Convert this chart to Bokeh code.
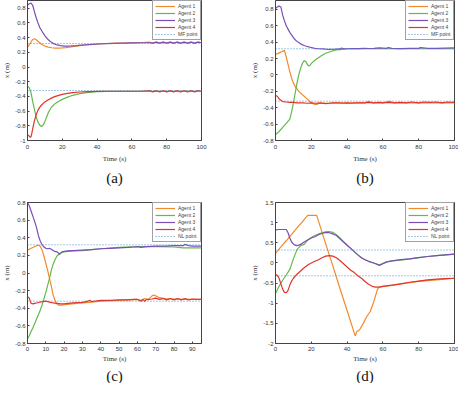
from bokeh.plotting import figure
from bokeh.models import FixedTicker, Legend, LegendItem, Range1d, Title
from bokeh.layouts import column, row
from bokeh.embed import file_html
from bokeh.resources import INLINE

# ---------------- data ----------------
series_names = ["Agent 1", "Agent 2", "Agent 3", "Agent 4"]

# panel (a)
a1_t = [0,1,2,3,4,5,6,7,8,10,12,14,16,18,20,22,25,28,31,34,37,40,43,46,50,55,60,65,70,72,74,76,78,80,82,84,86,88,90,92,94,96,98,100]
a1_y = [0.27,0.30,0.34,0.375,0.385,0.37,0.35,0.33,0.31,0.285,0.27,0.262,0.258,0.258,0.26,0.265,0.275,0.285,0.293,0.30,0.306,0.312,0.317,0.32,0.324,0.327,0.329,0.33,0.338,0.324,0.338,0.324,0.338,0.324,0.338,0.324,0.338,0.324,0.338,0.324,0.338,0.324,0.338,0.33]
a2_t = [0,1,2,3,4,5,6,7,8,9,10,11,12,13,14,16,18,20,23,26,30,35,40,45,50,55,60,70,80,90,100]
a2_y = [-0.26,-0.28,-0.35,-0.47,-0.58,-0.68,-0.75,-0.79,-0.81,-0.79,-0.74,-0.68,-0.62,-0.575,-0.54,-0.495,-0.465,-0.44,-0.41,-0.385,-0.362,-0.345,-0.336,-0.332,-0.33,-0.33,-0.33,-0.33,-0.33,-0.33,-0.33]
a3_t = [0,1,2,3,4,5,6,7,8,9,10,11,12,13,14,15,17,19,21,23,25,28,31,34,37,40,45,50,55,60,65,70,72,74,76,78,80,82,84,86,88,90,92,94,96,98,100]
a3_y = [0.84,0.86,0.87,0.84,0.75,0.67,0.60,0.54,0.50,0.46,0.425,0.395,0.37,0.35,0.332,0.318,0.30,0.29,0.285,0.285,0.287,0.292,0.298,0.303,0.308,0.313,0.318,0.322,0.325,0.328,0.33,0.33,0.324,0.338,0.324,0.338,0.324,0.338,0.324,0.338,0.324,0.338,0.324,0.338,0.324,0.338,0.33]
a4_t = [0,1,1.5,2,2.5,3,4,5,6,7,8,9,10,12,14,16,18,20,23,26,30,35,40,45,50,55,60,65,70,72,74,76,78,80,82,84,86,88,90,92,94,96,98,100]
a4_y = [-0.92,-0.94,-0.955,-0.95,-0.90,-0.84,-0.73,-0.65,-0.59,-0.55,-0.52,-0.495,-0.475,-0.445,-0.42,-0.40,-0.385,-0.372,-0.358,-0.348,-0.34,-0.335,-0.332,-0.33,-0.33,-0.33,-0.33,-0.33,-0.322,-0.338,-0.322,-0.338,-0.322,-0.338,-0.322,-0.338,-0.322,-0.338,-0.322,-0.338,-0.322,-0.338,-0.322,-0.33]

# panel (b)
b1_t = [0,2,4,5,6,7,8,9,10,11,12,13,14,15,16,17,18,19,20,21,22,23,24,25,27,30,35,40,45,50,52,54,60,64,66,70,80,90,100]
b1_y = [0.25,0.27,0.29,0.30,0.22,0.13,0.04,-0.04,-0.10,-0.14,-0.17,-0.20,-0.22,-0.24,-0.26,-0.28,-0.30,-0.32,-0.335,-0.35,-0.36,-0.36,-0.35,-0.345,-0.345,-0.345,-0.34,-0.34,-0.34,-0.34,-0.32,-0.34,-0.34,-0.32,-0.34,-0.34,-0.34,-0.34,-0.34]
b2_t = [0,2,4,6,8,9,10,11,12,13,14,15,16,17,18,19,20,21,22,24,26,28,30,32,34,36,38,40,45,50,60,70,80,90,100]
b2_y = [-0.73,-0.69,-0.64,-0.59,-0.54,-0.45,-0.34,-0.22,-0.10,0.0,0.08,0.14,0.175,0.165,0.12,0.11,0.14,0.16,0.18,0.21,0.24,0.265,0.28,0.295,0.305,0.31,0.315,0.32,0.32,0.32,0.32,0.32,0.32,0.32,0.32]
b3_t = [0,1,2,3,4,5,6,7,8,9,10,11,12,13,14,16,18,20,22,24,26,28,30,33,36,37,38,40,43,46,50,52,55,58,62,63,65,70,75,80,81,85,90,95,100]
b3_y = [0.81,0.83,0.84,0.83,0.73,0.66,0.60,0.56,0.52,0.49,0.455,0.43,0.41,0.395,0.38,0.36,0.345,0.335,0.325,0.32,0.318,0.315,0.313,0.315,0.318,0.33,0.318,0.32,0.322,0.322,0.325,0.323,0.325,0.33,0.325,0.335,0.325,0.322,0.325,0.325,0.335,0.325,0.325,0.328,0.33]
b4_t = [0,1,2,3,4,6,8,10,12,15,18,20,22,25,28,30,32,35,38,40,42,45,48,50,52,55,58,60,63,66,70,73,76,80,83,86,90,93,96,100]
b4_y = [-0.25,-0.26,-0.29,-0.31,-0.325,-0.33,-0.335,-0.335,-0.34,-0.34,-0.345,-0.34,-0.345,-0.34,-0.35,-0.345,-0.34,-0.34,-0.345,-0.34,-0.345,-0.34,-0.34,-0.34,-0.335,-0.34,-0.335,-0.34,-0.335,-0.34,-0.335,-0.34,-0.33,-0.34,-0.33,-0.335,-0.33,-0.34,-0.33,-0.335]

# panel (c)
c1_t = [0,1,2,3,4,5,6,7,8,9,10,11,12,13,14,15,16,17,18,19,20,22,24,27,30,35,40,45,50,55,60,62,64,66,67,68,69,70,71,72,75,80,85,90,95]
c1_y = [0.26,0.27,0.28,0.29,0.30,0.31,0.315,0.30,0.26,0.19,0.11,0.03,-0.06,-0.15,-0.25,-0.31,-0.35,-0.365,-0.365,-0.365,-0.36,-0.355,-0.35,-0.345,-0.34,-0.33,-0.32,-0.315,-0.31,-0.305,-0.30,-0.31,-0.29,-0.305,-0.28,-0.26,-0.25,-0.26,-0.27,-0.28,-0.29,-0.295,-0.30,-0.30,-0.30]
c2_t = [0,1,2,3,4,5,6,7,8,9,10,11,12,13,14,15,16,17,18,19,20,22,25,30,35,40,50,60,70,80,85,90,95]
c2_y = [-0.75,-0.71,-0.66,-0.62,-0.57,-0.52,-0.47,-0.42,-0.36,-0.29,-0.22,-0.14,-0.06,0.03,0.10,0.15,0.19,0.21,0.225,0.235,0.24,0.245,0.25,0.255,0.265,0.275,0.29,0.30,0.30,0.295,0.285,0.285,0.285]
c3_t = [0,1,2,3,4,5,6,7,8,9,10,11,12,13,14,15,16,17,17.5,18,19,20,22,25,30,35,40,45,50,55,58,60,62,65,70,75,80,85,86,88,90,95]
c3_y = [0.80,0.76,0.70,0.64,0.58,0.51,0.42,0.36,0.32,0.295,0.28,0.275,0.28,0.27,0.255,0.245,0.24,0.225,0.21,0.225,0.24,0.245,0.25,0.255,0.26,0.265,0.275,0.28,0.285,0.29,0.295,0.30,0.29,0.30,0.305,0.305,0.31,0.31,0.325,0.31,0.305,0.305]
c4_t = [0,1,1.5,2,3,4,5,6,8,10,12,14,16,18,20,22,25,28,30,33,34,35,38,40,45,50,55,58,60,62,63,64,65,66,68,70,72,74,76,78,80,82,84,86,88,90,92,95]
c4_y = [-0.27,-0.285,-0.32,-0.345,-0.35,-0.345,-0.34,-0.335,-0.325,-0.32,-0.33,-0.34,-0.345,-0.35,-0.35,-0.345,-0.34,-0.335,-0.333,-0.32,-0.31,-0.325,-0.315,-0.31,-0.31,-0.305,-0.305,-0.30,-0.30,-0.32,-0.30,-0.32,-0.30,-0.30,-0.295,-0.285,-0.30,-0.29,-0.305,-0.29,-0.305,-0.29,-0.305,-0.29,-0.305,-0.295,-0.30,-0.30]

# panel (d)
d1_t = [0,3,6,9,12,15,17,18,23,25,28,31,34,37,40,43,44.5,45.5,47,49,51,53,55,57,58,60,65,70,80,90,100]
d1_y = [0.24,0.40,0.55,0.71,0.87,1.02,1.13,1.18,1.18,0.90,0.48,0.07,-0.35,-0.77,-1.18,-1.60,-1.81,-1.70,-1.66,-1.50,-1.33,-1.20,-0.95,-0.65,-0.60,-0.58,-0.56,-0.52,-0.46,-0.42,-0.38]
d2_t = [0,2,4,6,8,10,12,14,16,18,20,22,24,26,28,30,32,34,36,38,40,42,44,46,48,50,52,54,56,58,60,62,65,70,75,80,85,90,95,100]
d2_y = [-0.76,-0.58,-0.43,-0.30,-0.16,0.10,0.33,0.43,0.46,0.57,0.63,0.68,0.72,0.75,0.77,0.78,0.76,0.70,0.62,0.53,0.44,0.36,0.28,0.20,0.13,0.08,0.04,0.01,-0.02,-0.05,-0.01,0.03,0.05,0.07,0.10,0.13,0.16,0.18,0.20,0.22]
d3_t = [0,2,4,6,7,8,9,10,11,12,13,14,16,18,20,22,24,26,28,30,32,34,36,38,40,42,44,46,48,50,52,54,56,58,60,62,65,70,75,80,85,90,95,100]
d3_y = [0.82,0.83,0.83,0.83,0.75,0.62,0.52,0.47,0.44,0.43,0.44,0.46,0.52,0.57,0.62,0.65,0.70,0.73,0.76,0.75,0.72,0.68,0.60,0.52,0.44,0.36,0.28,0.20,0.13,0.08,0.04,0.01,-0.02,-0.06,-0.02,0.02,0.05,0.08,0.10,0.13,0.16,0.18,0.20,0.22]
d4_t = [0,1,2,3,4,5,6,7,8,9,10,12,14,16,18,20,22,24,26,28,30,32,34,36,38,40,42,44,46,48,50,52,54,56,58,60,65,70,75,80,85,90,95,100]
d4_y = [-0.28,-0.31,-0.38,-0.52,-0.65,-0.73,-0.74,-0.68,-0.55,-0.45,-0.38,-0.28,-0.20,-0.12,-0.05,0.0,0.04,0.08,0.13,0.17,0.18,0.17,0.13,0.06,-0.02,-0.10,-0.18,-0.24,-0.32,-0.38,-0.46,-0.53,-0.58,-0.60,-0.60,-0.58,-0.55,-0.52,-0.48,-0.45,-0.42,-0.40,-0.39,-0.38]

ref_level = [0.32, -0.32]   # MF / NL reference point levels

a_xticks = [0, 20, 40, 60, 80, 100]
a_yticks = [-1, -0.8, -0.6, -0.4, -0.2, 0, 0.2, 0.4, 0.6, 0.8, 1]
b_yticks = [-0.8, -0.6, -0.4, -0.2, 0, 0.2, 0.4, 0.6, 0.8, 1]
c_xticks = [0, 10, 20, 30, 40, 50, 60, 70, 80, 90]
c_yticks = [-0.8, -0.6, -0.4, -0.2, 0, 0.2, 0.4, 0.6, 0.8]
d_yticks = [-2, -1.5, -1, -0.5, 0, 0.5, 1, 1.5]

colors = ["#F28A2C", "#62BA4A", "#7B4DB7", "#E2332A"]
ref_color = "#4A8FCF"

TICK_FONT = "Liberation Sans"
LAB_FONT = "Liberation Serif"


def fmt(v):
    return f"{v:g}"


def make_panel(w, h, bl, br, bt, bb, xr, yr, xticks, yticks, data, ref_name,
               tag, tag_standoff, tick_so, lab_so):
    p = figure(width=w, height=h, output_backend="svg", toolbar_location=None,
               x_range=Range1d(*xr), y_range=Range1d(*yr),
               min_border_left=bl, min_border_right=br,
               min_border_top=bt, min_border_bottom=bb)
    p.background_fill_color = "white"
    p.border_fill_color = "white"
    p.outline_line_color = "#444444"
    p.outline_line_width = 1
    p.xgrid.visible = False
    p.ygrid.visible = False
    for ax in (p.xaxis[0], p.yaxis[0]):
        ax.axis_line_color = "#444444"
        ax.major_tick_line_color = "#444444"
        ax.major_tick_in = 2
        ax.major_tick_out = 0
        ax.minor_tick_line_color = None
        ax.major_label_text_font = TICK_FONT
        ax.major_label_text_font_size = "6px"
        ax.major_label_text_color = "#333333"
        ax.axis_label_text_font = LAB_FONT
        ax.axis_label_text_font_style = "normal"
        ax.axis_label_text_font_size = "7px"
        ax.axis_label_text_color = "#333333"
    p.xaxis.ticker = FixedTicker(ticks=xticks)
    p.yaxis.ticker = FixedTicker(ticks=yticks)
    p.xaxis.major_label_overrides = {v: fmt(v) for v in xticks}
    p.yaxis.major_label_overrides = {v: fmt(v) for v in yticks}
    p.yaxis.major_label_standoff = 2
    p.xaxis.major_label_standoff = tick_so
    p.xaxis.axis_label = "Time (s)"
    p.xaxis.axis_label_standoff = lab_so
    p.yaxis.axis_label = "x (m)"
    p.yaxis.axis_label_standoff = 1

    items = []
    for name, (tt, yy), c in zip(series_names, data, colors):
        r = p.line(tt, yy, line_color=c, line_width=1.2)
        items.append(LegendItem(label=name, renderers=[r]))
    rr = None
    for lvl in ref_level:
        rr = p.line([xr[0], xr[1]], [lvl, lvl], line_color=ref_color,
                    line_width=1, line_dash="1 2")
    items.append(LegendItem(label=ref_name, renderers=[rr]))

    leg = Legend(items=items, location="top_right")
    leg.margin = 0
    leg.padding = 2
    leg.spacing = 1
    leg.label_text_font = TICK_FONT
    leg.label_text_font_size = "5px"
    leg.label_height = 6
    leg.glyph_height = 6
    leg.glyph_width = 20
    leg.label_standoff = 3
    leg.border_line_color = "#444444"
    leg.border_line_width = 1
    leg.background_fill_color = "white"
    leg.background_fill_alpha = 1
    p.add_layout(leg)

    p.add_layout(Title(text=tag, align="center", vertical_align="bottom",
                       text_font=LAB_FONT, text_font_size="15px",
                       text_font_style="normal", text_color="#111111",
                       standoff=tag_standoff), "below")
    return p


pa = make_panel(229, 192, 13, 28, 0, 52, (0, 100), (-1, 0.905), a_xticks, a_yticks,
                [(a1_t, a1_y), (a2_t, a2_y), (a3_t, a3_y), (a4_t, a4_y)],
                "MF point", "(a)", 4, 4, 3)
pb = make_panel(229, 192, 46, 4, 0, 52, (0, 100), (-0.8, 0.909), a_xticks, b_yticks,
                [(b1_t, b1_y), (b2_t, b2_y), (b3_t, b3_y), (b4_t, b4_y)],
                "MF point", "(b)", 4, 4, 3)
pc = make_panel(229, 191, 13, 28, 10, 39, (0, 95), (-0.8, 0.8), c_xticks, c_yticks,
                [(c1_t, c1_y), (c2_t, c2_y), (c3_t, c3_y), (c4_t, c4_y)],
                "NL point", "(c)", 0, 3, 1)
pd_ = make_panel(229, 191, 46, 4, 10, 39, (0, 100), (-2, 1.5), a_xticks, d_yticks,
                 [(d1_t, d1_y), (d2_t, d2_y), (d3_t, d3_y), (d4_t, d4_y)],
                 "NL point", "(d)", 0, 3, 1)

layout = column(row(pa, pb), row(pc, pd_))
open("out.html", "w").write(file_html(layout, INLINE))
